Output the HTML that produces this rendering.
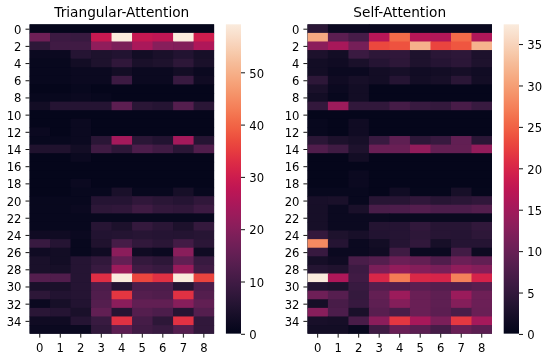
<!DOCTYPE html>
<html><head><meta charset="utf-8"><title>Attention heatmaps</title>
<style>html,body{margin:0;padding:0;background:#fff}svg{display:block}text{font-family:"DejaVu Sans","Liberation Sans",sans-serif;fill:#000}</style></head><body>
<svg width="550" height="361" viewBox="0 0 550 361">
<rect width="550" height="361" fill="#fff"/>
<defs><linearGradient id="rk" x1="0" y1="0" x2="0" y2="1"><stop offset="0.0000" stop-color="#faebdd"/><stop offset="0.0312" stop-color="#f9e0cd"/><stop offset="0.0625" stop-color="#f8d4bc"/><stop offset="0.0938" stop-color="#f7c9aa"/><stop offset="0.1250" stop-color="#f6bc99"/><stop offset="0.1562" stop-color="#f6b089"/><stop offset="0.1875" stop-color="#f6a37a"/><stop offset="0.2188" stop-color="#f5966c"/><stop offset="0.2500" stop-color="#f58860"/><stop offset="0.2812" stop-color="#f47a54"/><stop offset="0.3125" stop-color="#f26b49"/><stop offset="0.3438" stop-color="#f05c42"/><stop offset="0.3750" stop-color="#ec4c3e"/><stop offset="0.4062" stop-color="#e73d3f"/><stop offset="0.4375" stop-color="#df2f44"/><stop offset="0.4688" stop-color="#d62449"/><stop offset="0.5000" stop-color="#cb1b4f"/><stop offset="0.5312" stop-color="#bf1654"/><stop offset="0.5625" stop-color="#b21758"/><stop offset="0.5938" stop-color="#a4195b"/><stop offset="0.6250" stop-color="#971c5b"/><stop offset="0.6562" stop-color="#891e5b"/><stop offset="0.6875" stop-color="#7b1f59"/><stop offset="0.7188" stop-color="#6e1f57"/><stop offset="0.7500" stop-color="#611f53"/><stop offset="0.7812" stop-color="#541e4e"/><stop offset="0.8125" stop-color="#481c48"/><stop offset="0.8438" stop-color="#3c1a42"/><stop offset="0.8750" stop-color="#30173a"/><stop offset="0.9062" stop-color="#241432"/><stop offset="0.9375" stop-color="#180f29"/><stop offset="0.9688" stop-color="#0d0a21"/><stop offset="1.0000" stop-color="#03051a"/></linearGradient></defs>
<g>
<clipPath id="cT"><rect x="29.5" y="24.3" width="184.60" height="309.35"/></clipPath>
<rect x="29.5" y="24.3" width="184.60" height="309.35" fill="#05061b"/>
<g clip-path="url(#cT)">
<rect x="29.50" y="24.30" width="185.30" height="9.29" fill="#05061b"/>
<rect x="29.50" y="32.89" width="21.21" height="9.29" fill="#6d1f56"/><rect x="50.01" y="32.89" width="21.21" height="9.29" fill="#3c1a42"/><rect x="70.52" y="32.89" width="21.21" height="9.29" fill="#381a40"/><rect x="91.03" y="32.89" width="21.21" height="9.29" fill="#c71951"/><rect x="111.54" y="32.89" width="21.21" height="9.29" fill="#faebdd"/><rect x="132.06" y="32.89" width="21.21" height="9.29" fill="#c51852"/><rect x="152.57" y="32.89" width="21.21" height="9.29" fill="#bf1654"/><rect x="173.08" y="32.89" width="21.21" height="9.29" fill="#faebdd"/><rect x="193.59" y="32.89" width="21.21" height="9.29" fill="#ce1d4e"/>
<rect x="29.50" y="41.49" width="21.21" height="9.29" fill="#2d1738"/><rect x="50.01" y="41.49" width="41.72" height="9.29" fill="#401b44"/><rect x="91.03" y="41.49" width="21.21" height="9.29" fill="#901d5b"/><rect x="111.54" y="41.49" width="21.21" height="9.29" fill="#7b1f59"/><rect x="132.06" y="41.49" width="21.21" height="9.29" fill="#aa185a"/><rect x="152.57" y="41.49" width="21.21" height="9.29" fill="#871e5b"/><rect x="173.08" y="41.49" width="21.21" height="9.29" fill="#821e5a"/><rect x="193.59" y="41.49" width="21.21" height="9.29" fill="#af1759"/>
<rect x="29.50" y="50.08" width="41.72" height="9.29" fill="#0b0920"/><rect x="70.52" y="50.08" width="21.21" height="9.29" fill="#251433"/><rect x="91.03" y="50.08" width="21.21" height="9.29" fill="#1e122d"/><rect x="111.54" y="50.08" width="21.21" height="9.29" fill="#221331"/><rect x="132.06" y="50.08" width="21.21" height="9.29" fill="#130d25"/><rect x="152.57" y="50.08" width="21.21" height="9.29" fill="#1a102a"/><rect x="173.08" y="50.08" width="21.21" height="9.29" fill="#221331"/><rect x="193.59" y="50.08" width="21.21" height="9.29" fill="#170f28"/>
<rect x="29.50" y="58.67" width="41.72" height="9.29" fill="#08081e"/><rect x="70.52" y="58.67" width="21.21" height="9.29" fill="#130d25"/><rect x="91.03" y="58.67" width="21.21" height="9.29" fill="#1e122d"/><rect x="111.54" y="58.67" width="21.21" height="9.29" fill="#30173a"/><rect x="132.06" y="58.67" width="21.21" height="9.29" fill="#1a102a"/><rect x="152.57" y="58.67" width="21.21" height="9.29" fill="#1e122d"/><rect x="173.08" y="58.67" width="21.21" height="9.29" fill="#2d1738"/><rect x="193.59" y="58.67" width="21.21" height="9.29" fill="#1a102a"/>
<rect x="29.50" y="67.27" width="41.72" height="9.29" fill="#08081e"/><rect x="70.52" y="67.27" width="41.72" height="9.29" fill="#0b0920"/><rect x="111.54" y="67.27" width="21.21" height="9.29" fill="#130d25"/><rect x="132.06" y="67.27" width="41.72" height="9.29" fill="#0b0920"/><rect x="173.08" y="67.27" width="21.21" height="9.29" fill="#130d25"/><rect x="193.59" y="67.27" width="21.21" height="9.29" fill="#0b0920"/>
<rect x="29.50" y="75.86" width="41.72" height="9.29" fill="#08081e"/><rect x="70.52" y="75.86" width="41.72" height="9.29" fill="#0b0920"/><rect x="111.54" y="75.86" width="21.21" height="9.29" fill="#3c1a42"/><rect x="132.06" y="75.86" width="41.72" height="9.29" fill="#0b0920"/><rect x="173.08" y="75.86" width="21.21" height="9.29" fill="#381a40"/><rect x="193.59" y="75.86" width="21.21" height="9.29" fill="#100b23"/>
<rect x="29.50" y="84.45" width="41.72" height="9.29" fill="#05061b"/><rect x="70.52" y="84.45" width="21.21" height="9.29" fill="#08081e"/><rect x="91.03" y="84.45" width="123.77" height="9.29" fill="#05061b"/>
<rect x="29.50" y="93.04" width="41.72" height="9.29" fill="#08081e"/><rect x="70.52" y="93.04" width="21.21" height="9.29" fill="#0b0920"/><rect x="91.03" y="93.04" width="21.21" height="9.29" fill="#08081e"/><rect x="111.54" y="93.04" width="103.26" height="9.29" fill="#05061b"/>
<rect x="29.50" y="101.64" width="21.21" height="9.29" fill="#130d25"/><rect x="50.01" y="101.64" width="62.23" height="9.29" fill="#251433"/><rect x="111.54" y="101.64" width="21.21" height="9.29" fill="#5c1e51"/><rect x="132.06" y="101.64" width="21.21" height="9.29" fill="#2a1636"/><rect x="152.57" y="101.64" width="21.21" height="9.29" fill="#251433"/><rect x="173.08" y="101.64" width="21.21" height="9.29" fill="#541e4e"/><rect x="193.59" y="101.64" width="21.21" height="9.29" fill="#2a1636"/>
<rect x="29.50" y="110.23" width="185.30" height="9.29" fill="#05061b"/>
<rect x="29.50" y="118.82" width="41.72" height="9.29" fill="#05061b"/><rect x="70.52" y="118.82" width="21.21" height="9.29" fill="#0b0920"/><rect x="91.03" y="118.82" width="123.77" height="9.29" fill="#05061b"/>
<rect x="29.50" y="127.42" width="21.21" height="9.29" fill="#0b0920"/><rect x="50.01" y="127.42" width="21.21" height="9.29" fill="#05061b"/><rect x="70.52" y="127.42" width="21.21" height="9.29" fill="#0b0920"/><rect x="91.03" y="127.42" width="123.77" height="9.29" fill="#05061b"/>
<rect x="29.50" y="136.01" width="41.72" height="9.29" fill="#08081e"/><rect x="70.52" y="136.01" width="21.21" height="9.29" fill="#0b0920"/><rect x="91.03" y="136.01" width="21.21" height="9.29" fill="#2a1636"/><rect x="111.54" y="136.01" width="21.21" height="9.29" fill="#a4195b"/><rect x="132.06" y="136.01" width="21.21" height="9.29" fill="#2a1636"/><rect x="152.57" y="136.01" width="21.21" height="9.29" fill="#221331"/><rect x="173.08" y="136.01" width="21.21" height="9.29" fill="#a4195b"/><rect x="193.59" y="136.01" width="21.21" height="9.29" fill="#251433"/>
<rect x="29.50" y="144.60" width="41.72" height="9.29" fill="#20122e"/><rect x="70.52" y="144.60" width="21.21" height="9.29" fill="#130d25"/><rect x="91.03" y="144.60" width="21.21" height="9.29" fill="#3f1b43"/><rect x="111.54" y="144.60" width="21.21" height="9.29" fill="#2d1738"/><rect x="132.06" y="144.60" width="21.21" height="9.29" fill="#4c1d4b"/><rect x="152.57" y="144.60" width="21.21" height="9.29" fill="#401b44"/><rect x="173.08" y="144.60" width="21.21" height="9.29" fill="#2a1636"/><rect x="193.59" y="144.60" width="21.21" height="9.29" fill="#501d4c"/>
<rect x="29.50" y="153.20" width="41.72" height="9.29" fill="#05061b"/><rect x="70.52" y="153.20" width="21.21" height="9.29" fill="#0b0920"/><rect x="91.03" y="153.20" width="123.77" height="9.29" fill="#05061b"/>
<rect x="29.50" y="161.79" width="185.30" height="9.29" fill="#05061b"/>
<rect x="29.50" y="170.38" width="185.30" height="9.29" fill="#05061b"/>
<rect x="29.50" y="178.97" width="41.72" height="9.29" fill="#05061b"/><rect x="70.52" y="178.97" width="21.21" height="9.29" fill="#0b0920"/><rect x="91.03" y="178.97" width="123.77" height="9.29" fill="#05061b"/>
<rect x="29.50" y="187.57" width="41.72" height="9.29" fill="#05061b"/><rect x="70.52" y="187.57" width="41.72" height="9.29" fill="#08081e"/><rect x="111.54" y="187.57" width="21.21" height="9.29" fill="#1a102a"/><rect x="132.06" y="187.57" width="41.72" height="9.29" fill="#08081e"/><rect x="173.08" y="187.57" width="21.21" height="9.29" fill="#170f28"/><rect x="193.59" y="187.57" width="21.21" height="9.29" fill="#08081e"/>
<rect x="29.50" y="196.16" width="62.23" height="9.29" fill="#08081e"/><rect x="91.03" y="196.16" width="41.72" height="9.29" fill="#251433"/><rect x="132.06" y="196.16" width="21.21" height="9.29" fill="#30173a"/><rect x="152.57" y="196.16" width="21.21" height="9.29" fill="#2a1636"/><rect x="173.08" y="196.16" width="21.21" height="9.29" fill="#251433"/><rect x="193.59" y="196.16" width="21.21" height="9.29" fill="#30173a"/>
<rect x="29.50" y="204.75" width="41.72" height="9.29" fill="#08081e"/><rect x="70.52" y="204.75" width="21.21" height="9.29" fill="#0b0920"/><rect x="91.03" y="204.75" width="21.21" height="9.29" fill="#2d1738"/><rect x="111.54" y="204.75" width="21.21" height="9.29" fill="#30173a"/><rect x="132.06" y="204.75" width="21.21" height="9.29" fill="#3f1b43"/><rect x="152.57" y="204.75" width="21.21" height="9.29" fill="#33183c"/><rect x="173.08" y="204.75" width="21.21" height="9.29" fill="#30173a"/><rect x="193.59" y="204.75" width="21.21" height="9.29" fill="#3c1a42"/>
<rect x="29.50" y="213.35" width="185.30" height="9.29" fill="#08081e"/>
<rect x="29.50" y="221.94" width="62.23" height="9.29" fill="#08081e"/><rect x="91.03" y="221.94" width="21.21" height="9.29" fill="#271534"/><rect x="111.54" y="221.94" width="21.21" height="9.29" fill="#1d112c"/><rect x="132.06" y="221.94" width="21.21" height="9.29" fill="#34193d"/><rect x="152.57" y="221.94" width="21.21" height="9.29" fill="#2a1636"/><rect x="173.08" y="221.94" width="21.21" height="9.29" fill="#1d112c"/><rect x="193.59" y="221.94" width="21.21" height="9.29" fill="#34193d"/>
<rect x="29.50" y="230.53" width="41.72" height="9.29" fill="#100b23"/><rect x="70.52" y="230.53" width="21.21" height="9.29" fill="#0b0920"/><rect x="91.03" y="230.53" width="21.21" height="9.29" fill="#221331"/><rect x="111.54" y="230.53" width="21.21" height="9.29" fill="#241432"/><rect x="132.06" y="230.53" width="21.21" height="9.29" fill="#271534"/><rect x="152.57" y="230.53" width="21.21" height="9.29" fill="#251433"/><rect x="173.08" y="230.53" width="21.21" height="9.29" fill="#241432"/><rect x="193.59" y="230.53" width="21.21" height="9.29" fill="#271534"/>
<rect x="29.50" y="239.13" width="21.21" height="9.29" fill="#381a40"/><rect x="50.01" y="239.13" width="21.21" height="9.29" fill="#251433"/><rect x="70.52" y="239.13" width="21.21" height="9.29" fill="#08081e"/><rect x="91.03" y="239.13" width="21.21" height="9.29" fill="#20122e"/><rect x="111.54" y="239.13" width="21.21" height="9.29" fill="#451c47"/><rect x="132.06" y="239.13" width="21.21" height="9.29" fill="#31183b"/><rect x="152.57" y="239.13" width="21.21" height="9.29" fill="#2a1636"/><rect x="173.08" y="239.13" width="21.21" height="9.29" fill="#421b45"/><rect x="193.59" y="239.13" width="21.21" height="9.29" fill="#2b1637"/>
<rect x="29.50" y="247.72" width="21.21" height="9.29" fill="#100b23"/><rect x="50.01" y="247.72" width="21.21" height="9.29" fill="#130d25"/><rect x="70.52" y="247.72" width="21.21" height="9.29" fill="#08081e"/><rect x="91.03" y="247.72" width="21.21" height="9.29" fill="#100b23"/><rect x="111.54" y="247.72" width="21.21" height="9.29" fill="#8b1d5b"/><rect x="132.06" y="247.72" width="21.21" height="9.29" fill="#100b23"/><rect x="152.57" y="247.72" width="21.21" height="9.29" fill="#0b0920"/><rect x="173.08" y="247.72" width="21.21" height="9.29" fill="#891e5b"/><rect x="193.59" y="247.72" width="21.21" height="9.29" fill="#100b23"/>
<rect x="29.50" y="256.31" width="21.21" height="9.29" fill="#1a102a"/><rect x="50.01" y="256.31" width="21.21" height="9.29" fill="#130d25"/><rect x="70.52" y="256.31" width="21.21" height="9.29" fill="#251433"/><rect x="91.03" y="256.31" width="21.21" height="9.29" fill="#31183b"/><rect x="111.54" y="256.31" width="21.21" height="9.29" fill="#641f54"/><rect x="132.06" y="256.31" width="21.21" height="9.29" fill="#34193d"/><rect x="152.57" y="256.31" width="21.21" height="9.29" fill="#2d1738"/><rect x="173.08" y="256.31" width="21.21" height="9.29" fill="#611f53"/><rect x="193.59" y="256.31" width="21.21" height="9.29" fill="#381a40"/>
<rect x="29.50" y="264.91" width="21.21" height="9.29" fill="#1a102a"/><rect x="50.01" y="264.91" width="21.21" height="9.29" fill="#170f28"/><rect x="70.52" y="264.91" width="21.21" height="9.29" fill="#251433"/><rect x="91.03" y="264.91" width="21.21" height="9.29" fill="#381a40"/><rect x="111.54" y="264.91" width="21.21" height="9.29" fill="#9c1b5b"/><rect x="132.06" y="264.91" width="21.21" height="9.29" fill="#401b44"/><rect x="152.57" y="264.91" width="21.21" height="9.29" fill="#381a40"/><rect x="173.08" y="264.91" width="21.21" height="9.29" fill="#981b5b"/><rect x="193.59" y="264.91" width="21.21" height="9.29" fill="#401b44"/>
<rect x="29.50" y="273.50" width="21.21" height="9.29" fill="#541e4e"/><rect x="50.01" y="273.50" width="21.21" height="9.29" fill="#501d4c"/><rect x="70.52" y="273.50" width="21.21" height="9.29" fill="#251433"/><rect x="91.03" y="273.50" width="21.21" height="9.29" fill="#de2e44"/><rect x="111.54" y="273.50" width="21.21" height="9.29" fill="#faebdd"/><rect x="132.06" y="273.50" width="21.21" height="9.29" fill="#eb463e"/><rect x="152.57" y="273.50" width="21.21" height="9.29" fill="#e03143"/><rect x="173.08" y="273.50" width="21.21" height="9.29" fill="#faebdd"/><rect x="193.59" y="273.50" width="21.21" height="9.29" fill="#ea443e"/>
<rect x="29.50" y="282.09" width="41.72" height="9.29" fill="#1a102a"/><rect x="70.52" y="282.09" width="21.21" height="9.29" fill="#251433"/><rect x="91.03" y="282.09" width="21.21" height="9.29" fill="#4c1d4b"/><rect x="111.54" y="282.09" width="21.21" height="9.29" fill="#251433"/><rect x="132.06" y="282.09" width="41.72" height="9.29" fill="#4c1d4b"/><rect x="173.08" y="282.09" width="21.21" height="9.29" fill="#251433"/><rect x="193.59" y="282.09" width="21.21" height="9.29" fill="#4c1d4b"/>
<rect x="29.50" y="290.68" width="21.21" height="9.29" fill="#2d1738"/><rect x="50.01" y="290.68" width="21.21" height="9.29" fill="#221331"/><rect x="70.52" y="290.68" width="21.21" height="9.29" fill="#251433"/><rect x="91.03" y="290.68" width="21.21" height="9.29" fill="#501d4c"/><rect x="111.54" y="290.68" width="21.21" height="9.29" fill="#e33641"/><rect x="132.06" y="290.68" width="21.21" height="9.29" fill="#541e4e"/><rect x="152.57" y="290.68" width="21.21" height="9.29" fill="#501d4c"/><rect x="173.08" y="290.68" width="21.21" height="9.29" fill="#e03143"/><rect x="193.59" y="290.68" width="21.21" height="9.29" fill="#541e4e"/>
<rect x="29.50" y="299.28" width="21.21" height="9.29" fill="#0b0920"/><rect x="50.01" y="299.28" width="21.21" height="9.29" fill="#170f28"/><rect x="70.52" y="299.28" width="21.21" height="9.29" fill="#221331"/><rect x="91.03" y="299.28" width="21.21" height="9.29" fill="#541e4e"/><rect x="111.54" y="299.28" width="21.21" height="9.29" fill="#8b1d5b"/><rect x="132.06" y="299.28" width="41.72" height="9.29" fill="#611f53"/><rect x="173.08" y="299.28" width="21.21" height="9.29" fill="#871e5b"/><rect x="193.59" y="299.28" width="21.21" height="9.29" fill="#611f53"/>
<rect x="29.50" y="307.87" width="21.21" height="9.29" fill="#2a1636"/><rect x="50.01" y="307.87" width="21.21" height="9.29" fill="#251433"/><rect x="70.52" y="307.87" width="21.21" height="9.29" fill="#1a102a"/><rect x="91.03" y="307.87" width="21.21" height="9.29" fill="#611f53"/><rect x="111.54" y="307.87" width="21.21" height="9.29" fill="#251433"/><rect x="132.06" y="307.87" width="21.21" height="9.29" fill="#541e4e"/><rect x="152.57" y="307.87" width="21.21" height="9.29" fill="#4c1d4b"/><rect x="173.08" y="307.87" width="21.21" height="9.29" fill="#251433"/><rect x="193.59" y="307.87" width="21.21" height="9.29" fill="#541e4e"/>
<rect x="29.50" y="316.46" width="41.72" height="9.29" fill="#100b23"/><rect x="70.52" y="316.46" width="21.21" height="9.29" fill="#251433"/><rect x="91.03" y="316.46" width="21.21" height="9.29" fill="#381a40"/><rect x="111.54" y="316.46" width="21.21" height="9.29" fill="#e03143"/><rect x="132.06" y="316.46" width="21.21" height="9.29" fill="#451c47"/><rect x="152.57" y="316.46" width="21.21" height="9.29" fill="#2d1738"/><rect x="173.08" y="316.46" width="21.21" height="9.29" fill="#e03143"/><rect x="193.59" y="316.46" width="21.21" height="9.29" fill="#31183b"/>
<rect x="29.50" y="325.06" width="62.23" height="9.29" fill="#0b0920"/><rect x="91.03" y="325.06" width="21.21" height="9.29" fill="#31183b"/><rect x="111.54" y="325.06" width="21.21" height="9.29" fill="#5c1e51"/><rect x="132.06" y="325.06" width="21.21" height="9.29" fill="#401b44"/><rect x="152.57" y="325.06" width="21.21" height="9.29" fill="#381a40"/><rect x="173.08" y="325.06" width="21.21" height="9.29" fill="#541e4e"/><rect x="193.59" y="325.06" width="21.21" height="9.29" fill="#31183b"/>
</g>
<line x1="25.50" x2="29.50" y1="29.20" y2="29.20" stroke="#000" stroke-width="0.93"/><text x="21.50" y="33.70" font-size="11.6" text-anchor="end">0</text>
<line x1="25.50" x2="29.50" y1="46.38" y2="46.38" stroke="#000" stroke-width="0.93"/><text x="21.50" y="50.88" font-size="11.6" text-anchor="end">2</text>
<line x1="25.50" x2="29.50" y1="63.57" y2="63.57" stroke="#000" stroke-width="0.93"/><text x="21.50" y="68.07" font-size="11.6" text-anchor="end">4</text>
<line x1="25.50" x2="29.50" y1="80.75" y2="80.75" stroke="#000" stroke-width="0.93"/><text x="21.50" y="85.25" font-size="11.6" text-anchor="end">6</text>
<line x1="25.50" x2="29.50" y1="97.94" y2="97.94" stroke="#000" stroke-width="0.93"/><text x="21.50" y="102.44" font-size="11.6" text-anchor="end">8</text>
<line x1="25.50" x2="29.50" y1="115.13" y2="115.13" stroke="#000" stroke-width="0.93"/><text x="21.50" y="119.63" font-size="11.6" text-anchor="end">10</text>
<line x1="25.50" x2="29.50" y1="132.31" y2="132.31" stroke="#000" stroke-width="0.93"/><text x="21.50" y="136.81" font-size="11.6" text-anchor="end">12</text>
<line x1="25.50" x2="29.50" y1="149.50" y2="149.50" stroke="#000" stroke-width="0.93"/><text x="21.50" y="154.00" font-size="11.6" text-anchor="end">14</text>
<line x1="25.50" x2="29.50" y1="166.69" y2="166.69" stroke="#000" stroke-width="0.93"/><text x="21.50" y="171.19" font-size="11.6" text-anchor="end">16</text>
<line x1="25.50" x2="29.50" y1="183.87" y2="183.87" stroke="#000" stroke-width="0.93"/><text x="21.50" y="188.37" font-size="11.6" text-anchor="end">18</text>
<line x1="25.50" x2="29.50" y1="201.06" y2="201.06" stroke="#000" stroke-width="0.93"/><text x="21.50" y="205.56" font-size="11.6" text-anchor="end">20</text>
<line x1="25.50" x2="29.50" y1="218.24" y2="218.24" stroke="#000" stroke-width="0.93"/><text x="21.50" y="222.74" font-size="11.6" text-anchor="end">22</text>
<line x1="25.50" x2="29.50" y1="235.43" y2="235.43" stroke="#000" stroke-width="0.93"/><text x="21.50" y="239.93" font-size="11.6" text-anchor="end">24</text>
<line x1="25.50" x2="29.50" y1="252.62" y2="252.62" stroke="#000" stroke-width="0.93"/><text x="21.50" y="257.12" font-size="11.6" text-anchor="end">26</text>
<line x1="25.50" x2="29.50" y1="269.80" y2="269.80" stroke="#000" stroke-width="0.93"/><text x="21.50" y="274.30" font-size="11.6" text-anchor="end">28</text>
<line x1="25.50" x2="29.50" y1="286.99" y2="286.99" stroke="#000" stroke-width="0.93"/><text x="21.50" y="291.49" font-size="11.6" text-anchor="end">30</text>
<line x1="25.50" x2="29.50" y1="304.17" y2="304.17" stroke="#000" stroke-width="0.93"/><text x="21.50" y="308.67" font-size="11.6" text-anchor="end">32</text>
<line x1="25.50" x2="29.50" y1="321.36" y2="321.36" stroke="#000" stroke-width="0.93"/><text x="21.50" y="325.86" font-size="11.6" text-anchor="end">34</text>
<line x1="39.76" x2="39.76" y1="333.65" y2="337.65" stroke="#000" stroke-width="0.93"/><text x="39.76" y="351.60" font-size="11.6" text-anchor="middle">0</text>
<line x1="60.27" x2="60.27" y1="333.65" y2="337.65" stroke="#000" stroke-width="0.93"/><text x="60.27" y="351.60" font-size="11.6" text-anchor="middle">1</text>
<line x1="80.78" x2="80.78" y1="333.65" y2="337.65" stroke="#000" stroke-width="0.93"/><text x="80.78" y="351.60" font-size="11.6" text-anchor="middle">2</text>
<line x1="101.29" x2="101.29" y1="333.65" y2="337.65" stroke="#000" stroke-width="0.93"/><text x="101.29" y="351.60" font-size="11.6" text-anchor="middle">3</text>
<line x1="121.80" x2="121.80" y1="333.65" y2="337.65" stroke="#000" stroke-width="0.93"/><text x="121.80" y="351.60" font-size="11.6" text-anchor="middle">4</text>
<line x1="142.31" x2="142.31" y1="333.65" y2="337.65" stroke="#000" stroke-width="0.93"/><text x="142.31" y="351.60" font-size="11.6" text-anchor="middle">5</text>
<line x1="162.82" x2="162.82" y1="333.65" y2="337.65" stroke="#000" stroke-width="0.93"/><text x="162.82" y="351.60" font-size="11.6" text-anchor="middle">6</text>
<line x1="183.33" x2="183.33" y1="333.65" y2="337.65" stroke="#000" stroke-width="0.93"/><text x="183.33" y="351.60" font-size="11.6" text-anchor="middle">7</text>
<line x1="203.84" x2="203.84" y1="333.65" y2="337.65" stroke="#000" stroke-width="0.93"/><text x="203.84" y="351.60" font-size="11.6" text-anchor="middle">8</text>
<text x="121.80" y="17.35" font-size="13.7" text-anchor="middle">Triangular-Attention</text>
<rect x="225.9" y="24.3" width="15.10" height="309.35" fill="url(#rk)"/>
<line x1="241.00" x2="245.00" y1="334.30" y2="334.30" stroke="#000" stroke-width="0.93"/><text x="249.30" y="339.00" font-size="11.6">0</text>
<line x1="241.00" x2="245.00" y1="282.00" y2="282.00" stroke="#000" stroke-width="0.93"/><text x="249.30" y="286.70" font-size="11.6">10</text>
<line x1="241.00" x2="245.00" y1="229.70" y2="229.70" stroke="#000" stroke-width="0.93"/><text x="249.30" y="234.40" font-size="11.6">20</text>
<line x1="241.00" x2="245.00" y1="177.40" y2="177.40" stroke="#000" stroke-width="0.93"/><text x="249.30" y="182.10" font-size="11.6">30</text>
<line x1="241.00" x2="245.00" y1="125.10" y2="125.10" stroke="#000" stroke-width="0.93"/><text x="249.30" y="129.80" font-size="11.6">40</text>
<line x1="241.00" x2="245.00" y1="72.80" y2="72.80" stroke="#000" stroke-width="0.93"/><text x="249.30" y="77.50" font-size="11.6">50</text>
</g>
<g>
<clipPath id="cS"><rect x="307.4" y="24.3" width="184.60" height="309.35"/></clipPath>
<rect x="307.4" y="24.3" width="184.60" height="309.35" fill="#05061b"/>
<g clip-path="url(#cS)">
<rect x="307.40" y="24.30" width="21.21" height="9.29" fill="#2a1636"/><rect x="327.91" y="24.30" width="41.72" height="9.29" fill="#0b0920"/><rect x="368.93" y="24.30" width="123.77" height="9.29" fill="#0a091f"/>
<rect x="307.40" y="32.89" width="21.21" height="9.29" fill="#f6a981"/><rect x="327.91" y="32.89" width="21.21" height="9.29" fill="#5b1e51"/><rect x="348.42" y="32.89" width="21.21" height="9.29" fill="#461c48"/><rect x="368.93" y="32.89" width="21.21" height="9.29" fill="#b71657"/><rect x="389.44" y="32.89" width="21.21" height="9.29" fill="#f26b49"/><rect x="409.96" y="32.89" width="21.21" height="9.29" fill="#b71657"/><rect x="430.47" y="32.89" width="21.21" height="9.29" fill="#b21758"/><rect x="450.98" y="32.89" width="21.21" height="9.29" fill="#f26b49"/><rect x="471.49" y="32.89" width="21.21" height="9.29" fill="#af1759"/>
<rect x="307.40" y="41.49" width="21.21" height="9.29" fill="#8b1d5b"/><rect x="327.91" y="41.49" width="21.21" height="9.29" fill="#a8185a"/><rect x="348.42" y="41.49" width="21.21" height="9.29" fill="#751f58"/><rect x="368.93" y="41.49" width="21.21" height="9.29" fill="#eb483e"/><rect x="389.44" y="41.49" width="21.21" height="9.29" fill="#ee523f"/><rect x="409.96" y="41.49" width="21.21" height="9.29" fill="#f6b18b"/><rect x="430.47" y="41.49" width="21.21" height="9.29" fill="#ea443e"/><rect x="450.98" y="41.49" width="21.21" height="9.29" fill="#ef5640"/><rect x="471.49" y="41.49" width="21.21" height="9.29" fill="#f6b38d"/>
<rect x="307.40" y="50.08" width="21.21" height="9.29" fill="#1d112c"/><rect x="327.91" y="50.08" width="21.21" height="9.29" fill="#130d25"/><rect x="348.42" y="50.08" width="21.21" height="9.29" fill="#3a1a41"/><rect x="368.93" y="50.08" width="21.21" height="9.29" fill="#2d1738"/><rect x="389.44" y="50.08" width="21.21" height="9.29" fill="#30173a"/><rect x="409.96" y="50.08" width="21.21" height="9.29" fill="#1e122d"/><rect x="430.47" y="50.08" width="21.21" height="9.29" fill="#2a1636"/><rect x="450.98" y="50.08" width="21.21" height="9.29" fill="#2d1738"/><rect x="471.49" y="50.08" width="21.21" height="9.29" fill="#1d112c"/>
<rect x="307.40" y="58.67" width="21.21" height="9.29" fill="#130d25"/><rect x="327.91" y="58.67" width="21.21" height="9.29" fill="#100b23"/><rect x="348.42" y="58.67" width="21.21" height="9.29" fill="#1a102a"/><rect x="368.93" y="58.67" width="21.21" height="9.29" fill="#251433"/><rect x="389.44" y="58.67" width="21.21" height="9.29" fill="#2d1738"/><rect x="409.96" y="58.67" width="21.21" height="9.29" fill="#1e122d"/><rect x="430.47" y="58.67" width="21.21" height="9.29" fill="#251433"/><rect x="450.98" y="58.67" width="21.21" height="9.29" fill="#2b1637"/><rect x="471.49" y="58.67" width="21.21" height="9.29" fill="#1e122d"/>
<rect x="307.40" y="67.27" width="21.21" height="9.29" fill="#130d25"/><rect x="327.91" y="67.27" width="41.72" height="9.29" fill="#0b0920"/><rect x="368.93" y="67.27" width="21.21" height="9.29" fill="#130d25"/><rect x="389.44" y="67.27" width="21.21" height="9.29" fill="#170f28"/><rect x="409.96" y="67.27" width="21.21" height="9.29" fill="#110c24"/><rect x="430.47" y="67.27" width="21.21" height="9.29" fill="#130d25"/><rect x="450.98" y="67.27" width="21.21" height="9.29" fill="#160e27"/><rect x="471.49" y="67.27" width="21.21" height="9.29" fill="#110c24"/>
<rect x="307.40" y="75.86" width="21.21" height="9.29" fill="#2d1738"/><rect x="327.91" y="75.86" width="21.21" height="9.29" fill="#100b23"/><rect x="348.42" y="75.86" width="21.21" height="9.29" fill="#170f28"/><rect x="368.93" y="75.86" width="21.21" height="9.29" fill="#130d25"/><rect x="389.44" y="75.86" width="21.21" height="9.29" fill="#251433"/><rect x="409.96" y="75.86" width="21.21" height="9.29" fill="#130d25"/><rect x="430.47" y="75.86" width="21.21" height="9.29" fill="#170f28"/><rect x="450.98" y="75.86" width="21.21" height="9.29" fill="#2a1636"/><rect x="471.49" y="75.86" width="21.21" height="9.29" fill="#130d25"/>
<rect x="307.40" y="84.45" width="21.21" height="9.29" fill="#1a102a"/><rect x="327.91" y="84.45" width="21.21" height="9.29" fill="#0b0920"/><rect x="348.42" y="84.45" width="21.21" height="9.29" fill="#130d25"/><rect x="368.93" y="84.45" width="123.77" height="9.29" fill="#05061b"/>
<rect x="307.40" y="93.04" width="21.21" height="9.29" fill="#130d25"/><rect x="327.91" y="93.04" width="21.21" height="9.29" fill="#08081e"/><rect x="348.42" y="93.04" width="21.21" height="9.29" fill="#130d25"/><rect x="368.93" y="93.04" width="123.77" height="9.29" fill="#05061b"/>
<rect x="307.40" y="101.64" width="21.21" height="9.29" fill="#33183c"/><rect x="327.91" y="101.64" width="21.21" height="9.29" fill="#9c1b5b"/><rect x="348.42" y="101.64" width="41.72" height="9.29" fill="#31183b"/><rect x="389.44" y="101.64" width="21.21" height="9.29" fill="#451c47"/><rect x="409.96" y="101.64" width="21.21" height="9.29" fill="#381a40"/><rect x="430.47" y="101.64" width="21.21" height="9.29" fill="#34193d"/><rect x="450.98" y="101.64" width="21.21" height="9.29" fill="#481c48"/><rect x="471.49" y="101.64" width="21.21" height="9.29" fill="#381a40"/>
<rect x="307.40" y="110.23" width="185.30" height="9.29" fill="#05061b"/>
<rect x="307.40" y="118.82" width="21.21" height="9.29" fill="#08081e"/><rect x="327.91" y="118.82" width="21.21" height="9.29" fill="#05061b"/><rect x="348.42" y="118.82" width="21.21" height="9.29" fill="#100b23"/><rect x="368.93" y="118.82" width="123.77" height="9.29" fill="#05061b"/>
<rect x="307.40" y="127.42" width="21.21" height="9.29" fill="#08081e"/><rect x="327.91" y="127.42" width="21.21" height="9.29" fill="#05061b"/><rect x="348.42" y="127.42" width="21.21" height="9.29" fill="#100b23"/><rect x="368.93" y="127.42" width="123.77" height="9.29" fill="#05061b"/>
<rect x="307.40" y="136.01" width="21.21" height="9.29" fill="#2a1636"/><rect x="327.91" y="136.01" width="21.21" height="9.29" fill="#1d112c"/><rect x="348.42" y="136.01" width="21.21" height="9.29" fill="#170f28"/><rect x="368.93" y="136.01" width="21.21" height="9.29" fill="#381a40"/><rect x="389.44" y="136.01" width="21.21" height="9.29" fill="#5e1f52"/><rect x="409.96" y="136.01" width="21.21" height="9.29" fill="#2d1738"/><rect x="430.47" y="136.01" width="21.21" height="9.29" fill="#37193f"/><rect x="450.98" y="136.01" width="21.21" height="9.29" fill="#611f53"/><rect x="471.49" y="136.01" width="21.21" height="9.29" fill="#2a1636"/>
<rect x="307.40" y="144.60" width="21.21" height="9.29" fill="#501d4c"/><rect x="327.91" y="144.60" width="21.21" height="9.29" fill="#3f1b43"/><rect x="348.42" y="144.60" width="21.21" height="9.29" fill="#1e122d"/><rect x="368.93" y="144.60" width="41.72" height="9.29" fill="#691f55"/><rect x="409.96" y="144.60" width="21.21" height="9.29" fill="#921c5b"/><rect x="430.47" y="144.60" width="41.72" height="9.29" fill="#631f53"/><rect x="471.49" y="144.60" width="21.21" height="9.29" fill="#931c5b"/>
<rect x="307.40" y="153.20" width="41.72" height="9.29" fill="#05061b"/><rect x="348.42" y="153.20" width="21.21" height="9.29" fill="#130d25"/><rect x="368.93" y="153.20" width="123.77" height="9.29" fill="#05061b"/>
<rect x="307.40" y="161.79" width="185.30" height="9.29" fill="#05061b"/>
<rect x="307.40" y="170.38" width="41.72" height="9.29" fill="#05061b"/><rect x="348.42" y="170.38" width="21.21" height="9.29" fill="#0b0920"/><rect x="368.93" y="170.38" width="123.77" height="9.29" fill="#05061b"/>
<rect x="307.40" y="178.97" width="41.72" height="9.29" fill="#05061b"/><rect x="348.42" y="178.97" width="21.21" height="9.29" fill="#0b0920"/><rect x="368.93" y="178.97" width="123.77" height="9.29" fill="#05061b"/>
<rect x="307.40" y="187.57" width="62.23" height="9.29" fill="#08081e"/><rect x="368.93" y="187.57" width="21.21" height="9.29" fill="#05061b"/><rect x="389.44" y="187.57" width="21.21" height="9.29" fill="#110c24"/><rect x="409.96" y="187.57" width="41.72" height="9.29" fill="#06071c"/><rect x="450.98" y="187.57" width="21.21" height="9.29" fill="#170f28"/><rect x="471.49" y="187.57" width="21.21" height="9.29" fill="#06071c"/>
<rect x="307.40" y="196.16" width="21.21" height="9.29" fill="#180f29"/><rect x="327.91" y="196.16" width="21.21" height="9.29" fill="#1a102a"/><rect x="348.42" y="196.16" width="21.21" height="9.29" fill="#08081e"/><rect x="368.93" y="196.16" width="41.72" height="9.29" fill="#271534"/><rect x="409.96" y="196.16" width="21.21" height="9.29" fill="#30173a"/><rect x="430.47" y="196.16" width="21.21" height="9.29" fill="#271534"/><rect x="450.98" y="196.16" width="21.21" height="9.29" fill="#2a1636"/><rect x="471.49" y="196.16" width="21.21" height="9.29" fill="#30173a"/>
<rect x="307.40" y="204.75" width="21.21" height="9.29" fill="#170f28"/><rect x="327.91" y="204.75" width="21.21" height="9.29" fill="#0b0920"/><rect x="348.42" y="204.75" width="21.21" height="9.29" fill="#1a102a"/><rect x="368.93" y="204.75" width="21.21" height="9.29" fill="#491d49"/><rect x="389.44" y="204.75" width="21.21" height="9.29" fill="#4c1d4b"/><rect x="409.96" y="204.75" width="21.21" height="9.29" fill="#541e4e"/><rect x="430.47" y="204.75" width="41.72" height="9.29" fill="#4c1d4b"/><rect x="471.49" y="204.75" width="21.21" height="9.29" fill="#531e4d"/>
<rect x="307.40" y="213.35" width="21.21" height="9.29" fill="#170f28"/><rect x="327.91" y="213.35" width="62.23" height="9.29" fill="#0b0920"/><rect x="389.44" y="213.35" width="103.26" height="9.29" fill="#0a091f"/>
<rect x="307.40" y="221.94" width="21.21" height="9.29" fill="#170f28"/><rect x="327.91" y="221.94" width="41.72" height="9.29" fill="#0b0920"/><rect x="368.93" y="221.94" width="21.21" height="9.29" fill="#241432"/><rect x="389.44" y="221.94" width="21.21" height="9.29" fill="#251433"/><rect x="409.96" y="221.94" width="21.21" height="9.29" fill="#31183b"/><rect x="430.47" y="221.94" width="41.72" height="9.29" fill="#271534"/><rect x="471.49" y="221.94" width="21.21" height="9.29" fill="#31183b"/>
<rect x="307.40" y="230.53" width="21.21" height="9.29" fill="#33183c"/><rect x="327.91" y="230.53" width="21.21" height="9.29" fill="#1e122d"/><rect x="348.42" y="230.53" width="21.21" height="9.29" fill="#180f29"/><rect x="368.93" y="230.53" width="21.21" height="9.29" fill="#221331"/><rect x="389.44" y="230.53" width="21.21" height="9.29" fill="#251433"/><rect x="409.96" y="230.53" width="21.21" height="9.29" fill="#2d1738"/><rect x="430.47" y="230.53" width="21.21" height="9.29" fill="#271534"/><rect x="450.98" y="230.53" width="21.21" height="9.29" fill="#251433"/><rect x="471.49" y="230.53" width="21.21" height="9.29" fill="#2d1738"/>
<rect x="307.40" y="239.13" width="21.21" height="9.29" fill="#f58a61"/><rect x="327.91" y="239.13" width="21.21" height="9.29" fill="#251433"/><rect x="348.42" y="239.13" width="21.21" height="9.29" fill="#0b0920"/><rect x="368.93" y="239.13" width="21.21" height="9.29" fill="#130d25"/><rect x="389.44" y="239.13" width="21.21" height="9.29" fill="#251433"/><rect x="409.96" y="239.13" width="21.21" height="9.29" fill="#31183b"/><rect x="430.47" y="239.13" width="21.21" height="9.29" fill="#170f28"/><rect x="450.98" y="239.13" width="41.72" height="9.29" fill="#251433"/>
<rect x="307.40" y="247.72" width="21.21" height="9.29" fill="#37193f"/><rect x="327.91" y="247.72" width="41.72" height="9.29" fill="#0b0920"/><rect x="368.93" y="247.72" width="21.21" height="9.29" fill="#100b23"/><rect x="389.44" y="247.72" width="21.21" height="9.29" fill="#3f1b43"/><rect x="409.96" y="247.72" width="41.72" height="9.29" fill="#0b0920"/><rect x="450.98" y="247.72" width="21.21" height="9.29" fill="#421b45"/><rect x="471.49" y="247.72" width="21.21" height="9.29" fill="#0d0a21"/>
<rect x="307.40" y="256.31" width="21.21" height="9.29" fill="#160e27"/><rect x="327.91" y="256.31" width="21.21" height="9.29" fill="#100b23"/><rect x="348.42" y="256.31" width="21.21" height="9.29" fill="#491d49"/><rect x="368.93" y="256.31" width="21.21" height="9.29" fill="#541e4e"/><rect x="389.44" y="256.31" width="21.21" height="9.29" fill="#6b1f56"/><rect x="409.96" y="256.31" width="21.21" height="9.29" fill="#631f53"/><rect x="430.47" y="256.31" width="21.21" height="9.29" fill="#501d4c"/><rect x="450.98" y="256.31" width="21.21" height="9.29" fill="#6b1f56"/><rect x="471.49" y="256.31" width="21.21" height="9.29" fill="#611f53"/>
<rect x="307.40" y="264.91" width="21.21" height="9.29" fill="#241432"/><rect x="327.91" y="264.91" width="21.21" height="9.29" fill="#20122e"/><rect x="348.42" y="264.91" width="21.21" height="9.29" fill="#3c1a42"/><rect x="368.93" y="264.91" width="21.21" height="9.29" fill="#7a1f59"/><rect x="389.44" y="264.91" width="21.21" height="9.29" fill="#921c5b"/><rect x="409.96" y="264.91" width="21.21" height="9.29" fill="#841e5a"/><rect x="430.47" y="264.91" width="21.21" height="9.29" fill="#781f59"/><rect x="450.98" y="264.91" width="21.21" height="9.29" fill="#901d5b"/><rect x="471.49" y="264.91" width="21.21" height="9.29" fill="#841e5a"/>
<rect x="307.40" y="273.50" width="21.21" height="9.29" fill="#faebdd"/><rect x="327.91" y="273.50" width="21.21" height="9.29" fill="#af1759"/><rect x="348.42" y="273.50" width="21.21" height="9.29" fill="#401b44"/><rect x="368.93" y="273.50" width="21.21" height="9.29" fill="#d82748"/><rect x="389.44" y="273.50" width="21.21" height="9.29" fill="#f47c55"/><rect x="409.96" y="273.50" width="21.21" height="9.29" fill="#d92847"/><rect x="430.47" y="273.50" width="21.21" height="9.29" fill="#d62449"/><rect x="450.98" y="273.50" width="21.21" height="9.29" fill="#f4815a"/><rect x="471.49" y="273.50" width="21.21" height="9.29" fill="#d5224a"/>
<rect x="307.40" y="282.09" width="21.21" height="9.29" fill="#221331"/><rect x="327.91" y="282.09" width="21.21" height="9.29" fill="#1e122d"/><rect x="348.42" y="282.09" width="21.21" height="9.29" fill="#381a40"/><rect x="368.93" y="282.09" width="21.21" height="9.29" fill="#541e4e"/><rect x="389.44" y="282.09" width="21.21" height="9.29" fill="#531e4d"/><rect x="409.96" y="282.09" width="21.21" height="9.29" fill="#5b1e51"/><rect x="430.47" y="282.09" width="21.21" height="9.29" fill="#541e4e"/><rect x="450.98" y="282.09" width="21.21" height="9.29" fill="#501d4c"/><rect x="471.49" y="282.09" width="21.21" height="9.29" fill="#581e4f"/>
<rect x="307.40" y="290.68" width="21.21" height="9.29" fill="#6e1f57"/><rect x="327.91" y="290.68" width="21.21" height="9.29" fill="#561e4f"/><rect x="348.42" y="290.68" width="21.21" height="9.29" fill="#34193d"/><rect x="368.93" y="290.68" width="21.21" height="9.29" fill="#631f53"/><rect x="389.44" y="290.68" width="21.21" height="9.29" fill="#9c1b5b"/><rect x="409.96" y="290.68" width="21.21" height="9.29" fill="#691f55"/><rect x="430.47" y="290.68" width="21.21" height="9.29" fill="#5e1f52"/><rect x="450.98" y="290.68" width="21.21" height="9.29" fill="#9a1b5b"/><rect x="471.49" y="290.68" width="21.21" height="9.29" fill="#6d1f56"/>
<rect x="307.40" y="299.28" width="21.21" height="9.29" fill="#160e27"/><rect x="327.91" y="299.28" width="21.21" height="9.29" fill="#481c48"/><rect x="348.42" y="299.28" width="21.21" height="9.29" fill="#37193f"/><rect x="368.93" y="299.28" width="21.21" height="9.29" fill="#5e1f52"/><rect x="389.44" y="299.28" width="21.21" height="9.29" fill="#841e5a"/><rect x="409.96" y="299.28" width="21.21" height="9.29" fill="#691f55"/><rect x="430.47" y="299.28" width="21.21" height="9.29" fill="#5e1f52"/><rect x="450.98" y="299.28" width="21.21" height="9.29" fill="#841e5a"/><rect x="471.49" y="299.28" width="21.21" height="9.29" fill="#6b1f56"/>
<rect x="307.40" y="307.87" width="21.21" height="9.29" fill="#871e5b"/><rect x="327.91" y="307.87" width="21.21" height="9.29" fill="#4c1d4b"/><rect x="348.42" y="307.87" width="21.21" height="9.29" fill="#1a102a"/><rect x="368.93" y="307.87" width="21.21" height="9.29" fill="#581e4f"/><rect x="389.44" y="307.87" width="21.21" height="9.29" fill="#491d49"/><rect x="409.96" y="307.87" width="21.21" height="9.29" fill="#691f55"/><rect x="430.47" y="307.87" width="21.21" height="9.29" fill="#5c1e51"/><rect x="450.98" y="307.87" width="21.21" height="9.29" fill="#491d49"/><rect x="471.49" y="307.87" width="21.21" height="9.29" fill="#691f55"/>
<rect x="307.40" y="316.46" width="21.21" height="9.29" fill="#180f29"/><rect x="327.91" y="316.46" width="21.21" height="9.29" fill="#160e27"/><rect x="348.42" y="316.46" width="21.21" height="9.29" fill="#481c48"/><rect x="368.93" y="316.46" width="21.21" height="9.29" fill="#8b1d5b"/><rect x="389.44" y="316.46" width="21.21" height="9.29" fill="#e33641"/><rect x="409.96" y="316.46" width="21.21" height="9.29" fill="#a8185a"/><rect x="430.47" y="316.46" width="21.21" height="9.29" fill="#7a1f59"/><rect x="450.98" y="316.46" width="21.21" height="9.29" fill="#e43841"/><rect x="471.49" y="316.46" width="21.21" height="9.29" fill="#a4195b"/>
<rect x="307.40" y="325.06" width="41.72" height="9.29" fill="#130d25"/><rect x="348.42" y="325.06" width="21.21" height="9.29" fill="#08081e"/><rect x="368.93" y="325.06" width="21.21" height="9.29" fill="#3f1b43"/><rect x="389.44" y="325.06" width="21.21" height="9.29" fill="#691f55"/><rect x="409.96" y="325.06" width="21.21" height="9.29" fill="#5b1e51"/><rect x="430.47" y="325.06" width="21.21" height="9.29" fill="#451c47"/><rect x="450.98" y="325.06" width="21.21" height="9.29" fill="#691f55"/><rect x="471.49" y="325.06" width="21.21" height="9.29" fill="#5b1e51"/>
</g>
<line x1="303.40" x2="307.40" y1="29.20" y2="29.20" stroke="#000" stroke-width="0.93"/><text x="299.40" y="33.70" font-size="11.6" text-anchor="end">0</text>
<line x1="303.40" x2="307.40" y1="46.38" y2="46.38" stroke="#000" stroke-width="0.93"/><text x="299.40" y="50.88" font-size="11.6" text-anchor="end">2</text>
<line x1="303.40" x2="307.40" y1="63.57" y2="63.57" stroke="#000" stroke-width="0.93"/><text x="299.40" y="68.07" font-size="11.6" text-anchor="end">4</text>
<line x1="303.40" x2="307.40" y1="80.75" y2="80.75" stroke="#000" stroke-width="0.93"/><text x="299.40" y="85.25" font-size="11.6" text-anchor="end">6</text>
<line x1="303.40" x2="307.40" y1="97.94" y2="97.94" stroke="#000" stroke-width="0.93"/><text x="299.40" y="102.44" font-size="11.6" text-anchor="end">8</text>
<line x1="303.40" x2="307.40" y1="115.13" y2="115.13" stroke="#000" stroke-width="0.93"/><text x="299.40" y="119.63" font-size="11.6" text-anchor="end">10</text>
<line x1="303.40" x2="307.40" y1="132.31" y2="132.31" stroke="#000" stroke-width="0.93"/><text x="299.40" y="136.81" font-size="11.6" text-anchor="end">12</text>
<line x1="303.40" x2="307.40" y1="149.50" y2="149.50" stroke="#000" stroke-width="0.93"/><text x="299.40" y="154.00" font-size="11.6" text-anchor="end">14</text>
<line x1="303.40" x2="307.40" y1="166.69" y2="166.69" stroke="#000" stroke-width="0.93"/><text x="299.40" y="171.19" font-size="11.6" text-anchor="end">16</text>
<line x1="303.40" x2="307.40" y1="183.87" y2="183.87" stroke="#000" stroke-width="0.93"/><text x="299.40" y="188.37" font-size="11.6" text-anchor="end">18</text>
<line x1="303.40" x2="307.40" y1="201.06" y2="201.06" stroke="#000" stroke-width="0.93"/><text x="299.40" y="205.56" font-size="11.6" text-anchor="end">20</text>
<line x1="303.40" x2="307.40" y1="218.24" y2="218.24" stroke="#000" stroke-width="0.93"/><text x="299.40" y="222.74" font-size="11.6" text-anchor="end">22</text>
<line x1="303.40" x2="307.40" y1="235.43" y2="235.43" stroke="#000" stroke-width="0.93"/><text x="299.40" y="239.93" font-size="11.6" text-anchor="end">24</text>
<line x1="303.40" x2="307.40" y1="252.62" y2="252.62" stroke="#000" stroke-width="0.93"/><text x="299.40" y="257.12" font-size="11.6" text-anchor="end">26</text>
<line x1="303.40" x2="307.40" y1="269.80" y2="269.80" stroke="#000" stroke-width="0.93"/><text x="299.40" y="274.30" font-size="11.6" text-anchor="end">28</text>
<line x1="303.40" x2="307.40" y1="286.99" y2="286.99" stroke="#000" stroke-width="0.93"/><text x="299.40" y="291.49" font-size="11.6" text-anchor="end">30</text>
<line x1="303.40" x2="307.40" y1="304.17" y2="304.17" stroke="#000" stroke-width="0.93"/><text x="299.40" y="308.67" font-size="11.6" text-anchor="end">32</text>
<line x1="303.40" x2="307.40" y1="321.36" y2="321.36" stroke="#000" stroke-width="0.93"/><text x="299.40" y="325.86" font-size="11.6" text-anchor="end">34</text>
<line x1="317.66" x2="317.66" y1="333.65" y2="337.65" stroke="#000" stroke-width="0.93"/><text x="317.66" y="351.60" font-size="11.6" text-anchor="middle">0</text>
<line x1="338.17" x2="338.17" y1="333.65" y2="337.65" stroke="#000" stroke-width="0.93"/><text x="338.17" y="351.60" font-size="11.6" text-anchor="middle">1</text>
<line x1="358.68" x2="358.68" y1="333.65" y2="337.65" stroke="#000" stroke-width="0.93"/><text x="358.68" y="351.60" font-size="11.6" text-anchor="middle">2</text>
<line x1="379.19" x2="379.19" y1="333.65" y2="337.65" stroke="#000" stroke-width="0.93"/><text x="379.19" y="351.60" font-size="11.6" text-anchor="middle">3</text>
<line x1="399.70" x2="399.70" y1="333.65" y2="337.65" stroke="#000" stroke-width="0.93"/><text x="399.70" y="351.60" font-size="11.6" text-anchor="middle">4</text>
<line x1="420.21" x2="420.21" y1="333.65" y2="337.65" stroke="#000" stroke-width="0.93"/><text x="420.21" y="351.60" font-size="11.6" text-anchor="middle">5</text>
<line x1="440.72" x2="440.72" y1="333.65" y2="337.65" stroke="#000" stroke-width="0.93"/><text x="440.72" y="351.60" font-size="11.6" text-anchor="middle">6</text>
<line x1="461.23" x2="461.23" y1="333.65" y2="337.65" stroke="#000" stroke-width="0.93"/><text x="461.23" y="351.60" font-size="11.6" text-anchor="middle">7</text>
<line x1="481.74" x2="481.74" y1="333.65" y2="337.65" stroke="#000" stroke-width="0.93"/><text x="481.74" y="351.60" font-size="11.6" text-anchor="middle">8</text>
<text x="399.70" y="17.35" font-size="13.7" text-anchor="middle">Self-Attention</text>
<rect x="503.7" y="24.3" width="15.30" height="309.35" fill="url(#rk)"/>
<line x1="519.00" x2="523.00" y1="334.45" y2="334.45" stroke="#000" stroke-width="0.93"/><text x="527.30" y="339.15" font-size="11.6">0</text>
<line x1="519.00" x2="523.00" y1="293.04" y2="293.04" stroke="#000" stroke-width="0.93"/><text x="527.30" y="297.74" font-size="11.6">5</text>
<line x1="519.00" x2="523.00" y1="251.63" y2="251.63" stroke="#000" stroke-width="0.93"/><text x="527.30" y="256.33" font-size="11.6">10</text>
<line x1="519.00" x2="523.00" y1="210.21" y2="210.21" stroke="#000" stroke-width="0.93"/><text x="527.30" y="214.91" font-size="11.6">15</text>
<line x1="519.00" x2="523.00" y1="168.80" y2="168.80" stroke="#000" stroke-width="0.93"/><text x="527.30" y="173.50" font-size="11.6">20</text>
<line x1="519.00" x2="523.00" y1="127.39" y2="127.39" stroke="#000" stroke-width="0.93"/><text x="527.30" y="132.09" font-size="11.6">25</text>
<line x1="519.00" x2="523.00" y1="85.98" y2="85.98" stroke="#000" stroke-width="0.93"/><text x="527.30" y="90.68" font-size="11.6">30</text>
<line x1="519.00" x2="523.00" y1="44.56" y2="44.56" stroke="#000" stroke-width="0.93"/><text x="527.30" y="49.26" font-size="11.6">35</text>
</g>
</svg>
</body></html>
